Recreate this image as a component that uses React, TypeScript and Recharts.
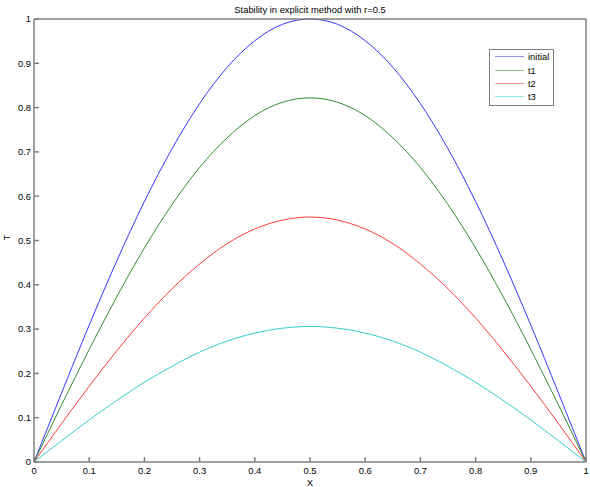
import { LineChart, Line, XAxis, YAxis, Legend } from "recharts";

const xs = [0, 0.05, 0.1, 0.15, 0.2, 0.25, 0.3, 0.35, 0.4, 0.45, 0.5, 0.55, 0.6, 0.65, 0.7, 0.75, 0.8, 0.85, 0.9, 0.95, 1];
const initial = [0, 0.156, 0.309, 0.454, 0.588, 0.707, 0.809, 0.891, 0.951, 0.988, 1.0, 0.988, 0.951, 0.891, 0.809, 0.707, 0.588, 0.454, 0.309, 0.156, 0];
const t1 = [0, 0.129, 0.254, 0.373, 0.483, 0.581, 0.665, 0.732, 0.782, 0.812, 0.822, 0.812, 0.782, 0.732, 0.665, 0.581, 0.483, 0.373, 0.254, 0.129, 0];
const t2 = [0, 0.087, 0.171, 0.251, 0.325, 0.391, 0.447, 0.493, 0.526, 0.546, 0.553, 0.546, 0.526, 0.493, 0.447, 0.391, 0.325, 0.251, 0.171, 0.087, 0];
const t3 = [0, 0.048, 0.095, 0.139, 0.18, 0.216, 0.248, 0.273, 0.291, 0.302, 0.306, 0.302, 0.291, 0.273, 0.248, 0.216, 0.18, 0.139, 0.095, 0.048, 0];
const ticks = [0, 0.1, 0.2, 0.3, 0.4, 0.5, 0.6, 0.7, 0.8, 0.9, 1];

const series = [
  { key: "initial", name: "initial", color: "#3535ff" },
  { key: "t1", name: "t1", color: "#2f8f2f" },
  { key: "t2", name: "t2", color: "#ff3b3b" },
  { key: "t3", name: "t3", color: "#35cccc" },
];

const data = xs.map((x, i) => ({ x, initial: initial[i], t1: t1[i], t2: t2[i], t3: t3[i] }));

const FONT = "'Liberation Sans', Arial, Helvetica, sans-serif";
const AXIS = "#808080";
const tickStyle = { fill: "#000", fontSize: 9.4, fontFamily: FONT };

function LegendBox() {
  return (
    <div
      style={{
        boxSizing: "border-box",
        width: 65,
        height: 57,
        border: `1px solid ${AXIS}`,
        background: "#fff",
        paddingLeft: 5,
        fontFamily: FONT,
        fontSize: 9.4,
        color: "#000",
      }}
    >
      {series.map((s) => (
        <div key={s.key} style={{ height: 13.4, display: "flex", alignItems: "center" }}>
          <svg width={29} height={3} style={{ marginRight: 4 }}>
            <line x1={0} y1={1.5} x2={29} y2={1.5} stroke={s.color} strokeOpacity={0.55} strokeWidth={1} />
          </svg>
          <span>{s.name}</span>
        </div>
      ))}
    </div>
  );
}

export default function App() {
  return (
    <div style={{ position: "absolute", left: 0, top: 0, background: "#fff" }}>
      <LineChart width={590} height={487} data={data} margin={{ top: 0, right: 0, bottom: 0, left: 0 }}>
        <XAxis
          dataKey="x"
          type="number"
          domain={[0, 1]}
          ticks={ticks}
          tickFormatter={(v) => String(v)}
          height={25}
          stroke={AXIS}
          strokeWidth={1.5}
          tickSize={-5}
          tickMargin={10}
          tick={tickStyle}
          interval={0}
          label={{ value: "X", position: "insideBottom", offset: 1, fill: "#000", fontSize: 9.4, fontFamily: FONT }}
        />
        <XAxis
          xAxisId="top"
          orientation="top"
          dataKey="x"
          type="number"
          domain={[0, 1]}
          ticks={ticks}
          height={19}
          stroke={AXIS}
          strokeWidth={1.5}
          tickSize={-5}
          tick={false}
          interval={0}
          label={{
            value: "Stability in explicit method with r=0.5",
            position: "center",
            fill: "#000",
            fontSize: 9.4,
            fontFamily: FONT,
          }}
        />
        <YAxis
          type="number"
          domain={[0, 1]}
          ticks={ticks}
          tickFormatter={(v) => String(v)}
          width={34}
          stroke={AXIS}
          strokeWidth={1.5}
          tickSize={-5}
          tickMargin={8}
          tick={tickStyle}
          interval={0}
          label={{ value: "T", angle: -90, position: "insideLeft", offset: 7, fill: "#000", fontSize: 9.4, fontFamily: FONT }}
        />
        <YAxis
          yAxisId="right"
          orientation="right"
          type="number"
          domain={[0, 1]}
          ticks={ticks}
          width={4}
          stroke={AXIS}
          strokeWidth={1.5}
          tickSize={-5}
          tick={false}
          interval={0}
        />
        <Legend
          layout="vertical"
          align="center"
          verticalAlign="middle"
          content={<LegendBox />}
          wrapperStyle={{ left: 489, top: 49, width: 65 }}
        />
        {series.map((s) => (
          <Line
            key={s.key}
            dataKey={s.key}
            name={s.name}
            type="monotone"
            stroke={s.color}
            strokeWidth={1}
            dot={false}
            isAnimationActive={false}
          />
        ))}
      </LineChart>
    </div>
  );
}
